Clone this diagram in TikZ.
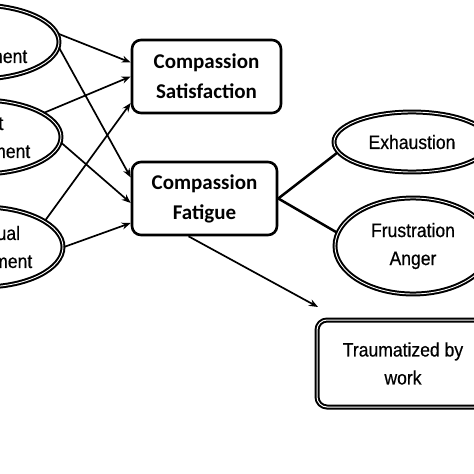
\documentclass[tikz,border=0pt]{standalone}
\usepackage{fontspec}
\setmainfont{Liberation Sans}[FakeStretch=0.9,FakeBold=0.5]
\newfontfamily\boxfont{Carlito}
\usetikzlibrary{shapes.geometric,arrows.meta,calc}
\begin{document}
\begin{tikzpicture}[x=1pt,y=-1pt,
  oval/.style={ellipse, draw, double=white, line width=2pt, double distance=0.9pt,
    inner sep=0pt, align=center, font=\fontsize{19.5}{28}\selectfont},
  cbox/.style={draw, rounded corners=9pt, line width=2.6pt, align=center,
    font=\boxfont\bfseries\fontsize{21}{30}\selectfont, inner sep=0pt},
  dbox/.style={draw, double=white, line width=2pt, double distance=1pt,
    rounded corners=10pt, align=center, inner sep=0pt, font=\fontsize{19.5}{28}\selectfont},
  arr/.style={-{Stealth[length=9pt,width=7pt]}, line width=1.7pt},
  link/.style={line width=2.5pt}]
\useasboundingbox (0,0) rectangle (474,474);
\clip (0,0) rectangle (474,474);
\fill[white] (0,0) rectangle (474,474);

\node[oval, minimum width=162, minimum height=74] (e1) at (-22,42) {Work\\Environment};
\node[oval, minimum width=160, minimum height=74] (e2) at (-19,137) {Client\\Environment};
\node[oval, minimum width=160, minimum height=80] (e3) at (-17,247) {Individual\\Environment};

\node[cbox, minimum width=149, minimum height=73] (cs) at (206.5,76.5) {Compassion\\Satisfaction};
\node[cbox, minimum width=145, minimum height=73] (cf) at (204.5,198.5) {Compassion\\Fatigue};

\node[oval, minimum width=156, minimum height=60] (ex) at (412,142) {Exhaustion};
\node[oval, minimum width=156, minimum height=96] (fa) at (413,246) {Frustration\\Anger};

\node[dbox, minimum width=172, minimum height=87] (tr) at (403,363.5) {Traumatized by\\work};

\draw[arr] (e1.6) -- ($(cs.west)+(0,-14)$);
\draw[arr] (e1.-4) -- ($(cf.west)+(0,-21)$);
\draw[arr] (e2.21) -- (cs.west);
\draw[arr] (e2.-4) -- ($(cf.west)+(0,4.5)$);
\draw[arr] (e3.23) -- ($(cs.west)+(0,26.5)$);
\draw[arr] (e3.0) -- ($(cf.west)+(0,24.5)$);

\draw[link] (cf.east) -- (ex.188);
\draw[link] (cf.east) -- (fa.170);
\draw[arr] ($(cf.south)+(-16,0)$) -- ($(tr.north west)+(2,-12)$);
\end{tikzpicture}
\end{document}
